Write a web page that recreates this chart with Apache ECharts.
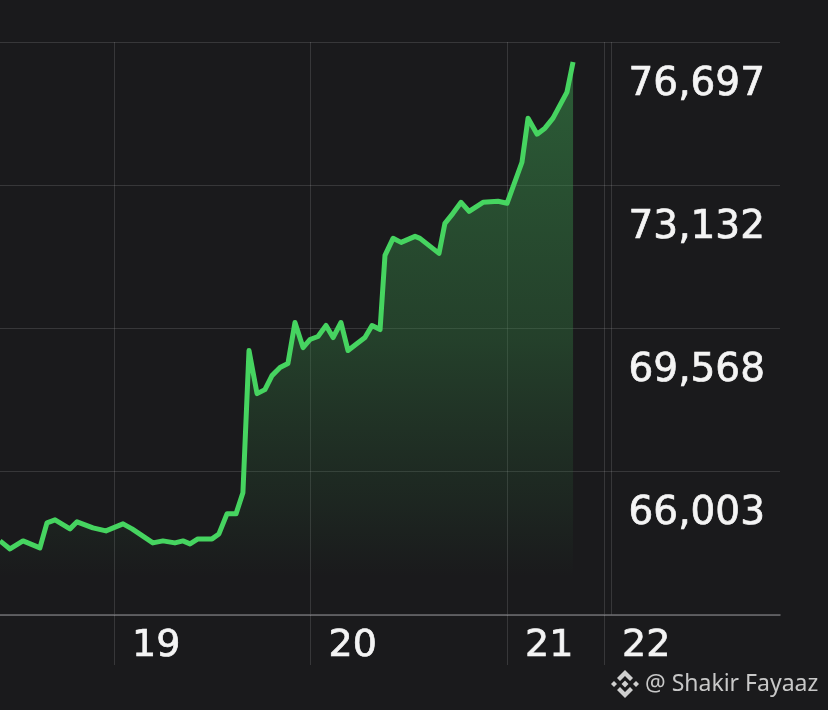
<!DOCTYPE html>
<html><head><meta charset="utf-8">
<style>html,body{margin:0;padding:0;background:#1a1a1c}#c{width:828px;height:710px}</style>
<script src="https://cdn.jsdelivr.net/npm/echarts@6/dist/echarts.min.js"></script>
</head><body><div id="c"></div>
<script>
const days = [18.420,18.471,18.537,18.623,18.659,18.700,18.776,18.812,18.893,18.959,19.046,19.092,19.198,19.249,19.310,19.351,19.387,19.427,19.499,19.534,19.575,19.621,19.656,19.687,19.728,19.768,19.804,19.845,19.885,19.921,19.962,19.997,20.038,20.079,20.115,20.155,20.191,20.237,20.277,20.313,20.354,20.379,20.420,20.461,20.532,20.557,20.654,20.684,20.725,20.766,20.807,20.878,20.954,21.000,21.076,21.107,21.153,21.193,21.234,21.305,21.336];
const prices = [64282,64082,64282,64107,64731,64805,64581,64756,64606,64531,64706,64581,64232,64282,64232,64282,64207,64332,64332,64456,64955,64955,65478,69019,67947,68046,68395,68595,68694,69717,69093,69293,69368,69642,69343,69717,69019,69193,69343,69642,69542,71387,71811,71711,71861,71811,71437,72185,72434,72708,72484,72708,72733,72683,73705,74802,74403,74553,74802,75450,76198];
const yTicks = [62438,66003,69568,73132,76697];
const yLabelValues = [66003,69568,73132,76697];
const xTickValues = [19,20,21,21.494];
const xTickLabels = ['19','20','21','22'];
const priceAxisEdge = [21.53];
const watermark = '@ Shakir Fayaaz';

const GRID = 'rgba(255,255,255,0.13)';
const chart = echarts.init(document.getElementById('c'));
const xRange = {min:18.42, max:22.389};
chart.setOption({
  animation:false,
  backgroundColor:'#1a1a1c',
  grid:{left:0,right:48,top:42,bottom:95},
  xAxis:[{
    type:'value',...xRange,
    axisLine:{onZero:false,show:true,lineStyle:{color:'#6e6e70',width:1.5}},
    axisTick:{show:true,customValues:xTickValues,length:50,lineStyle:{color:GRID,width:1}},
    splitLine:{show:true,lineStyle:{color:GRID,width:1}},
    axisLabel:{show:true,customValues:xTickValues,
      formatter:v=>xTickLabels[xTickValues.indexOf(v)],
      color:'#f4f4f4',fontFamily:'DejaVu Sans',fontSize:38,fontWeight:'normal',align:'left',
      textBorderColor:'#f4f4f4',textBorderWidth:0.7,
      padding:[0,0,0,18],margin:12,hideOverlap:false}
  },{
    type:'value',...xRange,position:'bottom',
    axisLine:{show:false},axisLabel:{show:false},
    axisTick:{show:false,customValues:priceAxisEdge},
    splitLine:{show:true,lineStyle:{color:GRID,width:1}}
  }],
  yAxis:{
    type:'value',position:'right',min:62438,max:76697,
    axisLine:{show:false},
    axisTick:{show:false,customValues:yTicks},
    splitLine:{show:true,lineStyle:{color:GRID,width:1}},
    axisLabel:{show:true,inside:true,customValues:yLabelValues,margin:15,
      formatter:v=>v.toLocaleString('en-US'),
      color:'#f4f4f4',fontFamily:'DejaVu Sans',fontSize:39,fontWeight:'normal',
      textBorderColor:'#f4f4f4',textBorderWidth:0.7,
      verticalAlign:'top',padding:[23,0,0,0],hideOverlap:false}
  },
  series:[{
    type:'line',xAxisIndex:0,yAxisIndex:0,
    data:days.map((d,i)=>[d,prices[i]]),
    showSymbol:false,symbol:'none',smooth:false,
    lineStyle:{color:'#46d460',width:5,join:'round'},
    areaStyle:{color:new echarts.graphic.LinearGradient(0,0,0,1,[
      {offset:0,color:'rgba(60,155,80,0.75)'},
      {offset:0.5,color:'rgba(55,135,70,0.5)'},
      {offset:0.8,color:'rgba(50,120,65,0.18)'},
      {offset:0.93,color:'rgba(50,120,65,0)'},
      {offset:1,color:'rgba(50,120,65,0)'}
    ])}
  }],
  graphic:[
    {type:'group',x:625,y:684,children:[
      {type:'polygon',shape:{points:[[0,-14],[8,-6],[5,-3],[0,-8],[-5,-3],[-8,-6]]},style:{fill:'#cfcfcf'}},
      {type:'polygon',shape:{points:[[0,14],[8,6],[5,3],[0,8],[-5,3],[-8,6]]},style:{fill:'#cfcfcf'}},
      {type:'polygon',shape:{points:[[-14,0],[-11,-3],[-8,0],[-11,3]]},style:{fill:'#cfcfcf'}},
      {type:'polygon',shape:{points:[[14,0],[11,-3],[8,0],[11,3]]},style:{fill:'#cfcfcf'}},
      {type:'polygon',shape:{points:[[0,-3.5],[3.5,0],[0,3.5],[-3.5,0]]},style:{fill:'#cfcfcf'}}
    ]},
    {type:'text',left:645,top:673,style:{text:watermark,fill:'#c8c8c8',font:'23px "Noto Sans"'}}
  ]
});
</script></body></html>
